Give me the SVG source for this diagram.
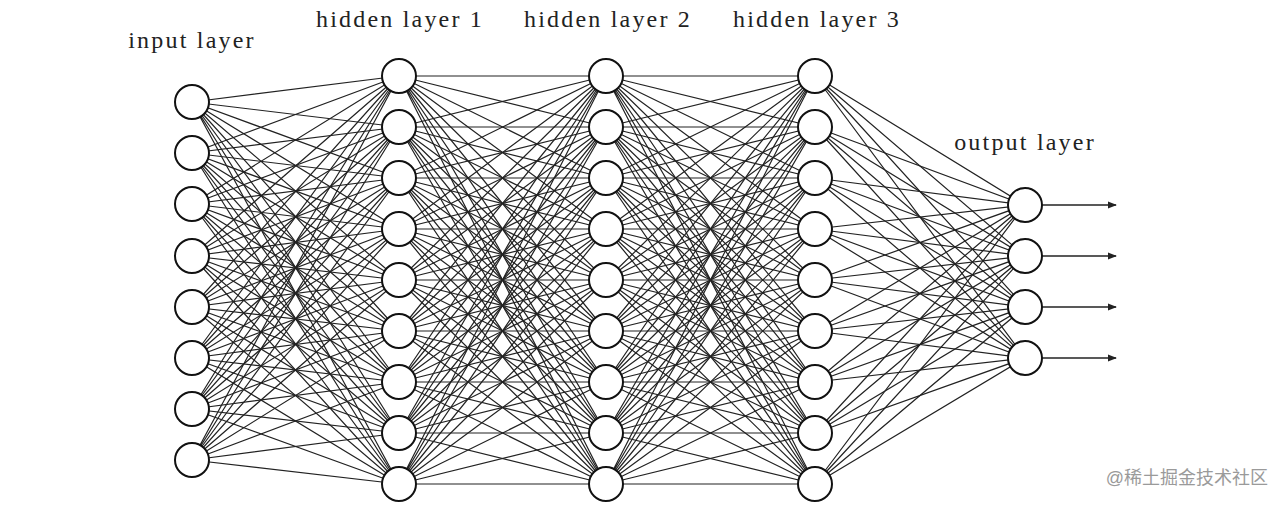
<svg xmlns="http://www.w3.org/2000/svg" xmlns:xlink="http://www.w3.org/1999/xlink" width="1280" height="506" viewBox="0 0 1280 506">
<style>
.e{fill:none;stroke:#222;stroke-width:1.2;vector-effect:non-scaling-stroke}
.n{fill:#fff;stroke:#111;stroke-width:2}
.t{font-family:"Liberation Serif",serif;font-size:24px;letter-spacing:2.2px;fill:#222;text-anchor:middle}
.o{stroke:#222;stroke-width:1.3;fill:none}
</style>
<defs>
<marker id="ah" viewBox="0 0 10 10" refX="9" refY="5" markerWidth="7" markerHeight="7" orient="auto"><path d="M0 1L10 5L0 9z" fill="#222"/></marker>
<g id="hb">
<path class="e" d="M0 76L1 76M0 76L1 127M0 76L1 178M0 76L1 229M0 76L1 280M0 76L1 331M0 76L1 382M0 76L1 433M0 76L1 484"/>
<path class="e" d="M0 127L1 76M0 127L1 127M0 127L1 178M0 127L1 229M0 127L1 280M0 127L1 331M0 127L1 382M0 127L1 433M0 127L1 484"/>
<path class="e" d="M0 178L1 76M0 178L1 127M0 178L1 178M0 178L1 229M0 178L1 280M0 178L1 331M0 178L1 382M0 178L1 433M0 178L1 484"/>
<path class="e" d="M0 229L1 76M0 229L1 127M0 229L1 178M0 229L1 229M0 229L1 280M0 229L1 331M0 229L1 382M0 229L1 433M0 229L1 484"/>
<path class="e" d="M0 280L1 76M0 280L1 127M0 280L1 178M0 280L1 229M0 280L1 280M0 280L1 331M0 280L1 382M0 280L1 433M0 280L1 484"/>
<path class="e" d="M0 331L1 76M0 331L1 127M0 331L1 178M0 331L1 229M0 331L1 280M0 331L1 331M0 331L1 382M0 331L1 433M0 331L1 484"/>
<path class="e" d="M0 382L1 76M0 382L1 127M0 382L1 178M0 382L1 229M0 382L1 280M0 382L1 331M0 382L1 382M0 382L1 433M0 382L1 484"/>
<path class="e" d="M0 433L1 76M0 433L1 127M0 433L1 178M0 433L1 229M0 433L1 280M0 433L1 331M0 433L1 382M0 433L1 433M0 433L1 484"/>
<path class="e" d="M0 484L1 76M0 484L1 127M0 484L1 178M0 484L1 229M0 484L1 280M0 484L1 331M0 484L1 382M0 484L1 433M0 484L1 484"/>
</g>
</defs>
<g id="connectors">
<g class="in">
<path class="e" d="M192 102L399 76M192 102L399 127M192 102L399 178M192 102L399 229M192 102L399 280M192 102L399 331M192 102L399 382M192 102L399 433M192 102L399 484"/>
<path class="e" d="M192 153L399 76M192 153L399 127M192 153L399 178M192 153L399 229M192 153L399 280M192 153L399 331M192 153L399 382M192 153L399 433M192 153L399 484"/>
<path class="e" d="M192 204L399 76M192 204L399 127M192 204L399 178M192 204L399 229M192 204L399 280M192 204L399 331M192 204L399 382M192 204L399 433M192 204L399 484"/>
<path class="e" d="M192 256L399 76M192 256L399 127M192 256L399 178M192 256L399 229M192 256L399 280M192 256L399 331M192 256L399 382M192 256L399 433M192 256L399 484"/>
<path class="e" d="M192 307L399 76M192 307L399 127M192 307L399 178M192 307L399 229M192 307L399 280M192 307L399 331M192 307L399 382M192 307L399 433M192 307L399 484"/>
<path class="e" d="M192 358L399 76M192 358L399 127M192 358L399 178M192 358L399 229M192 358L399 280M192 358L399 331M192 358L399 382M192 358L399 433M192 358L399 484"/>
<path class="e" d="M192 409L399 76M192 409L399 127M192 409L399 178M192 409L399 229M192 409L399 280M192 409L399 331M192 409L399 382M192 409L399 433M192 409L399 484"/>
<path class="e" d="M192 460L399 76M192 460L399 127M192 460L399 178M192 460L399 229M192 460L399 280M192 460L399 331M192 460L399 382M192 460L399 433M192 460L399 484"/>
</g>
<use xlink:href="#hb" transform="translate(399 0) scale(207 1)"/>
<use xlink:href="#hb" transform="translate(606 0) scale(209 1)"/>
<g class="out">
<path class="e" d="M815 76L1025 205M815 76L1025 256M815 76L1025 307M815 76L1025 358"/>
<path class="e" d="M815 127L1025 205M815 127L1025 256M815 127L1025 307M815 127L1025 358"/>
<path class="e" d="M815 178L1025 205M815 178L1025 256M815 178L1025 307M815 178L1025 358"/>
<path class="e" d="M815 229L1025 205M815 229L1025 256M815 229L1025 307M815 229L1025 358"/>
<path class="e" d="M815 280L1025 205M815 280L1025 256M815 280L1025 307M815 280L1025 358"/>
<path class="e" d="M815 331L1025 205M815 331L1025 256M815 331L1025 307M815 331L1025 358"/>
<path class="e" d="M815 382L1025 205M815 382L1025 256M815 382L1025 307M815 382L1025 358"/>
<path class="e" d="M815 433L1025 205M815 433L1025 256M815 433L1025 307M815 433L1025 358"/>
<path class="e" d="M815 484L1025 205M815 484L1025 256M815 484L1025 307M815 484L1025 358"/>
</g>
<g class="arrows" marker-end="url(#ah)">
<line class="o" x1="1042" y1="205" x2="1116" y2="205"/>
<line class="o" x1="1042" y1="256" x2="1116" y2="256"/>
<line class="o" x1="1042" y1="307" x2="1116" y2="307"/>
<line class="o" x1="1042" y1="358" x2="1116" y2="358"/>
</g>
</g>
<g id="input-layer">
<circle class="n" cx="192" cy="102" r="17"/><circle class="n" cx="192" cy="153" r="17"/><circle class="n" cx="192" cy="204" r="17"/><circle class="n" cx="192" cy="256" r="17"/><circle class="n" cx="192" cy="307" r="17"/><circle class="n" cx="192" cy="358" r="17"/><circle class="n" cx="192" cy="409" r="17"/><circle class="n" cx="192" cy="460" r="17"/>
<text class="t" x="192" y="48">input layer</text>
</g>
<g id="hidden-layer-1">
<circle class="n" cx="399" cy="76" r="17"/><circle class="n" cx="399" cy="127" r="17"/><circle class="n" cx="399" cy="178" r="17"/><circle class="n" cx="399" cy="229" r="17"/><circle class="n" cx="399" cy="280" r="17"/><circle class="n" cx="399" cy="331" r="17"/><circle class="n" cx="399" cy="382" r="17"/><circle class="n" cx="399" cy="433" r="17"/><circle class="n" cx="399" cy="484" r="17"/>
<text class="t" x="400" y="27">hidden layer 1</text>
</g>
<g id="hidden-layer-2">
<circle class="n" cx="606" cy="76" r="17"/><circle class="n" cx="606" cy="127" r="17"/><circle class="n" cx="606" cy="178" r="17"/><circle class="n" cx="606" cy="229" r="17"/><circle class="n" cx="606" cy="280" r="17"/><circle class="n" cx="606" cy="331" r="17"/><circle class="n" cx="606" cy="382" r="17"/><circle class="n" cx="606" cy="433" r="17"/><circle class="n" cx="606" cy="484" r="17"/>
<text class="t" x="608" y="27">hidden layer 2</text>
</g>
<g id="hidden-layer-3">
<circle class="n" cx="815" cy="76" r="17"/><circle class="n" cx="815" cy="127" r="17"/><circle class="n" cx="815" cy="178" r="17"/><circle class="n" cx="815" cy="229" r="17"/><circle class="n" cx="815" cy="280" r="17"/><circle class="n" cx="815" cy="331" r="17"/><circle class="n" cx="815" cy="382" r="17"/><circle class="n" cx="815" cy="433" r="17"/><circle class="n" cx="815" cy="484" r="17"/>
<text class="t" x="817" y="27">hidden layer 3</text>
</g>
<g id="output-layer">
<circle class="n" cx="1025" cy="205" r="17"/><circle class="n" cx="1025" cy="256" r="17"/><circle class="n" cx="1025" cy="307" r="17"/><circle class="n" cx="1025" cy="358" r="17"/>
<text class="t" x="1025" y="150">output layer</text>
</g>
<text x="1268" y="484" text-anchor="end" font-family="'Liberation Sans','Noto Sans CJK SC',sans-serif" font-size="18" fill="#9a9a9a">@稀土掘金技术社区</text>
</svg>
